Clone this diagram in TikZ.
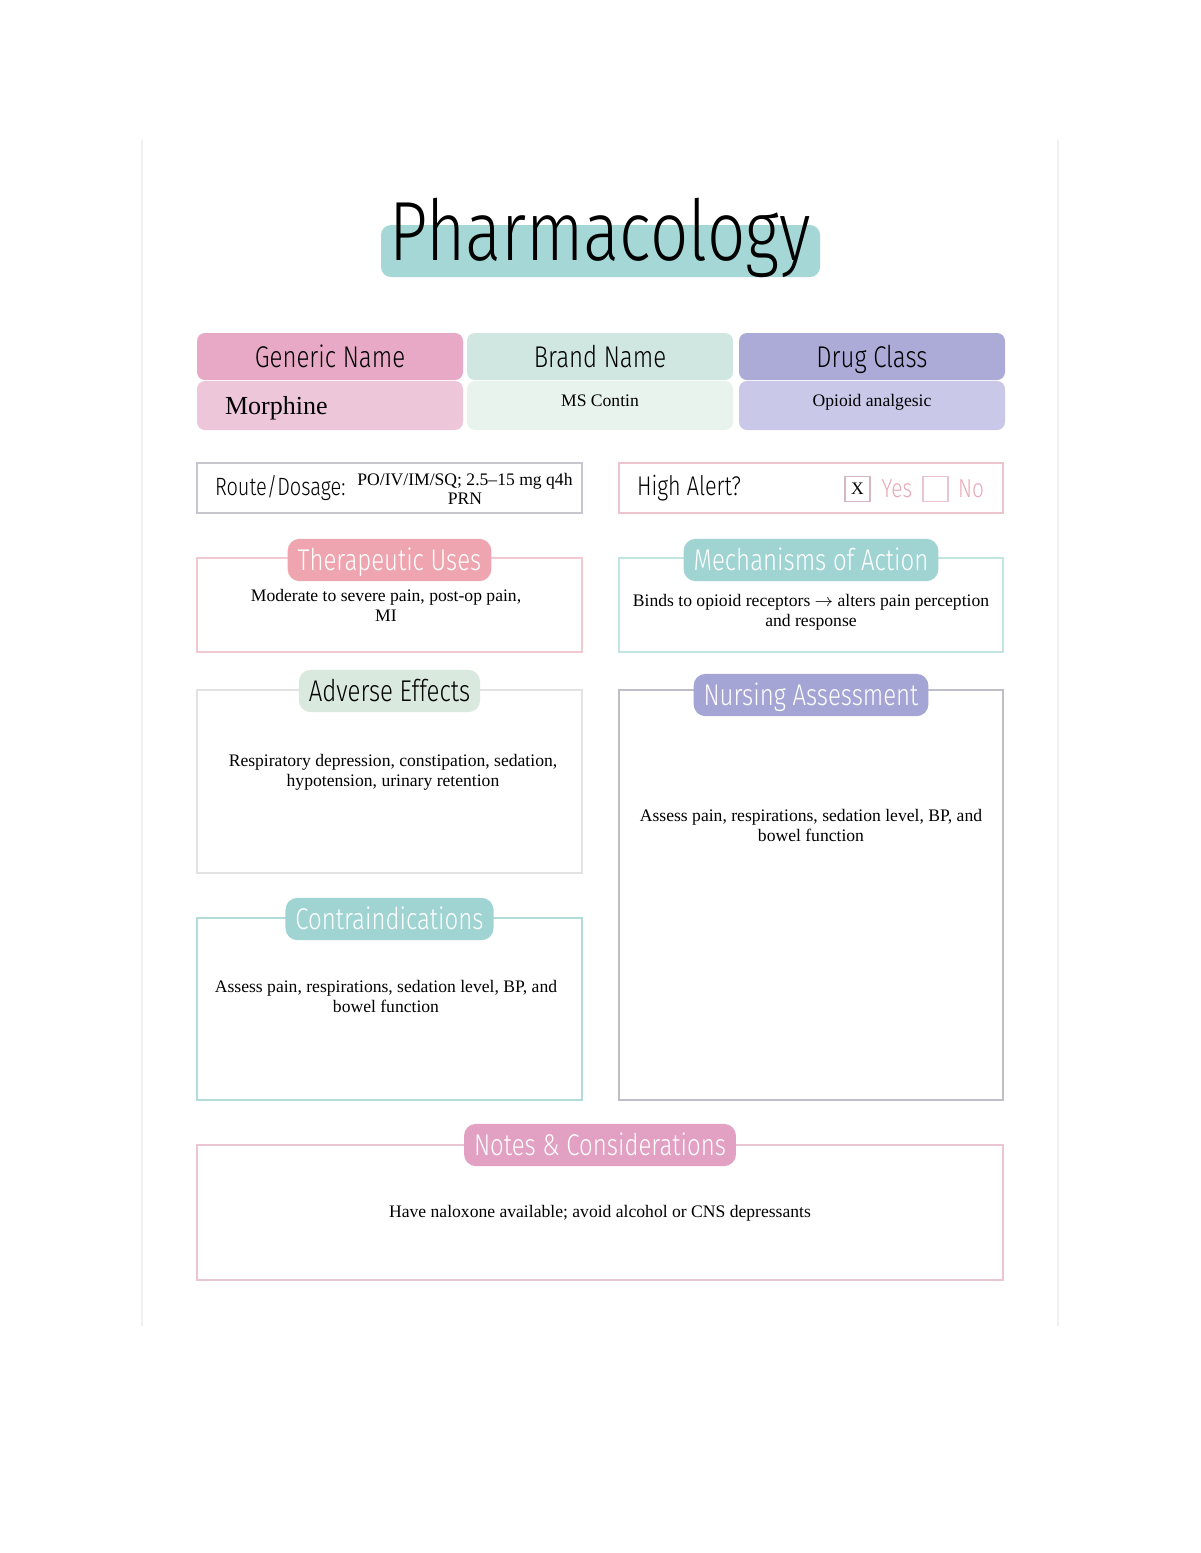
\documentclass[tikz,border=0pt]{standalone}
\usepackage{fontspec}
\setmainfont{Liberation Serif}
\newfontfamily\handfont{Fira Sans Light}[FakeStretch=0.8]
\usepackage{xcolor}
\usepackage{tikz}
\usetikzlibrary{positioning, calc}

\definecolor{titleteal}{HTML}{A6D7D7}
\definecolor{genhead}{HTML}{E8A9C6}
\definecolor{genbody}{HTML}{EEC6DA}
\definecolor{brandhead}{HTML}{D0E6E1}
\definecolor{brandbody}{HTML}{E9F3EE}
\definecolor{classhead}{HTML}{ACABD8}
\definecolor{classbody}{HTML}{C9C8E8}
\definecolor{tabpink}{HTML}{EFA5B0}
\definecolor{tabteal}{HTML}{A0D4D3}
\definecolor{tabsage}{HTML}{D9E9DE}
\definecolor{tablav}{HTML}{A4A4D5}
\definecolor{tabrose}{HTML}{E2A0C2}
\definecolor{routeline}{HTML}{C6C6CC}
\definecolor{alertline}{HTML}{EBC5CD}
\definecolor{usesline}{HTML}{F2C8D1}
\definecolor{mechline}{HTML}{C2E5E2}
\definecolor{adverseline}{HTML}{E2E2E2}
\definecolor{nursingline}{HTML}{BEBEC8}
\definecolor{contraline}{HTML}{B3DBD9}
\definecolor{notesline}{HTML}{EAC6D0}
\definecolor{yespink}{HTML}{E9A8BA}
\definecolor{pageline}{HTML}{F0F0F0}

\begin{document}
\begin{tikzpicture}[x=0.5pt, y=-0.5pt,
  namehead/.style={anchor=north west, fill=#1, rounded corners=4pt, minimum width=133pt, minimum height=23.5pt, outer sep=0pt, text height=12.5pt, text depth=1.5pt, font=\handfont\fontsize{15}{15}\selectfont},
  namebody/.style={fill=#1, rounded corners=4pt, minimum width=133pt, minimum height=24.5pt, outer sep=0pt},
  card/.style={draw=#1, line width=0.75pt, anchor=north west, outer sep=0pt},
  tab/.style={fill=#1, rounded corners=6pt, minimum height=20pt, inner xsep=5pt, text height=12.5pt, text depth=2pt, font=\handfont\fontsize{15}{15}\selectfont},
  body/.style={align=center, font=\fontsize{8.8}{10}\selectfont}]

\useasboundingbox (0,0) rectangle (1200,1553);
\fill[white] (0,0) rectangle (1200,1553);

% Page edges
\draw[pageline, line width=1pt] (142,140) -- (142,1326);
\draw[pageline, line width=1pt] (1058,140) -- (1058,1326);

% Title
\node[fill=titleteal, rounded corners=5pt, minimum width=219.5pt, minimum height=26pt] (titleBand) at (600.5,251) {};
\node[font=\handfont\fontsize{42}{42}\selectfont] (title) at (600,238) {Pharmacology};

% Name row
\foreach \nm/\x/\head/\hc/\bc in {generic/197/Generic Name/genhead/genbody,
    brand/467/Brand Name/brandhead/brandbody,
    class/739/Drug Class/classhead/classbody} {
  \node[namehead=\hc] (\nm-head) at (\x,333) {\head};
  \node[namebody=\bc, below=0.5pt of \nm-head] (\nm-body) {};
}
\node[anchor=west, font=\fontsize{13}{13}\selectfont] (generic-text) at ([xshift=10.5pt, yshift=-1.5pt]generic-body.west) {Morphine};
\node[body, text height=6pt, text depth=2pt] (brand-text) at ([yshift=1.5pt]brand-body.center) {MS Contin};
\node[body, text height=6pt, text depth=2pt] (class-text) at ([yshift=1.5pt]class-body.center) {Opioid analgesic};

% Route and alert
\node[card=routeline, minimum width=192.5pt, minimum height=25pt] (route) at (197,463) {};
\node[anchor=west, font=\handfont\fontsize{12.5}{12.5}\selectfont] (route-label) at (208,488) {Route/Dosage:};
\node[body, font=\fontsize{8.8}{9.5}\selectfont] (route-text) at (465,489) {PO/IV/IM/SQ; 2.5–15 mg q4h\\PRN};

\node[card=alertline, minimum width=192pt, minimum height=25pt] (alert) at (619,463) {};
\node[anchor=west, font=\handfont\fontsize{13.5}{13.5}\selectfont] (alert-label) at (630,488) {High Alert?};
\node[draw=alertline!80!gray, line width=0.75pt, minimum size=12.5pt, inner sep=0pt, font=\fontsize{8.8}{8.8}\selectfont] (yes-box) at (857.5,489) {X};
\node[text=yespink, font=\handfont\fontsize{13}{13}\selectfont] (yes-text) at (897,489) {Yes};
\node[draw=alertline, line width=0.75pt, minimum size=12.5pt, inner sep=0pt] (no-box) at (935.5,489) {};
\node[text=yespink, font=\handfont\fontsize{13}{13}\selectfont] (no-text) at (971,489) {No};

% Section cards with tabs
\foreach \nm/\x/\y/\w/\h/\ln/\tb/\tc/\dy/\ttl in {
    uses/197/558/385/94/usesline/tabpink/white/2/Therapeutic Uses,
    mech/619/558/384/94/mechline/tabteal/white/2/Mechanisms of Action,
    adverse/197/690/385/183/adverseline/tabsage/black/1/Adverse Effects,
    nursing/619/690/384/410/nursingline/tablav/white/5/Nursing Assessment,
    contra/197/918/385/182/contraline/tabteal/white/1/Contraindications,
    notes/197/1145/806/135/notesline/tabrose/white/0/Notes \& Considerations} {
  \node[card=\ln, minimum width=\w*0.5pt, minimum height=\h*0.5pt] (\nm) at (\x,\y) {};
  \node[tab=\tb, text=\tc] (\nm-tab) at ([yshift=-\dy*0.5pt]\nm.north) {\ttl};
}

% Section texts
\node[body] (uses-text) at (386,605) {Moderate to severe pain, post-op pain,\\MI};
\node[body] (mech-text) at (811,612) {Binds to opioid receptors $\rightarrow$ alters pain perception\\and response};
\node[body] (adverse-text) at (393,772) {Respiratory depression, constipation, sedation,\\hypotension, urinary retention};
\node[body] (nursing-text) at (811,825) {Assess pain, respirations, sedation level, BP, and\\bowel function};
\node[body] (contra-text) at (386,996) {Assess pain, respirations, sedation level, BP, and\\bowel function};
\node[body] (notes-text) at (600,1213) {Have naloxone available; avoid alcohol or CNS depressants};

\end{tikzpicture}
\end{document}
